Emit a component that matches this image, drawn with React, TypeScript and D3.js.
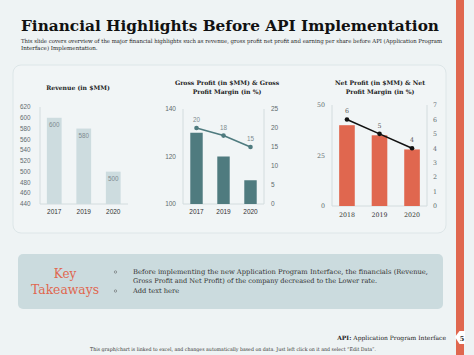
import React from "react";
import * as d3 from "d3";

const revYears = ["2017", "2019", "2020"];
const revenue = [600, 580, 500];
const revTicks = [440, 460, 480, 500, 520, 540, 560, 580, 600, 620];

const gpYears = ["2017", "2019", "2020"];
const grossProfit = [130, 120, 110];
const grossMargin = [20, 18, 15];
const gpLeftTicks = [100, 120, 140];
const gpRightTicks = [0, 5, 10, 15, 20, 25];

const npYears = ["2018", "2019", "2020"];
const netProfit = [40, 35, 28];
const netMargin = [6, 5, 4];
const npLeftTicks = [0, 25, 50];
const npRightTicks = [0, 1, 2, 3, 4, 5, 6, 7];

const SERIF = "'DejaVu Serif', 'Liberation Serif', serif";
const SANS = "'Liberation Sans', Arial, sans-serif";
const CORAL = "#e0674f";
const TEAL = "#4f7b7f";
const AXIS = "#d3dcde";
const LBL = "#5f6b6e";

export default function App() {
  // Chart 1
  const x1 = d3.scaleBand<string>().domain(revYears).range([39.5, 128]).paddingInner(0.5).paddingOuter(0.25);
  const y1 = d3.scaleLinear().domain([440, 620]).range([204, 107]);
  // Chart 2
  const x2 = d3.scaleBand<string>().domain(gpYears).range([183, 264]).paddingInner(0.54).paddingOuter(0.27);
  const y2 = d3.scaleLinear().domain([100, 140]).range([204, 109]);
  const y2r = d3.scaleLinear().domain([0, 25]).range([204, 109]);
  const line2 = d3.line<number>().x((_, i) => x2(gpYears[i])! + x2.bandwidth() / 2).y((d) => y2r(d));
  // Chart 3
  const x3 = d3.scaleBand<string>().domain(npYears).range([332, 427]).paddingInner(0.52).paddingOuter(0.22);
  const y3 = d3.scaleLinear().domain([0, 50]).range([206, 105]);
  const y3r = d3.scaleLinear().domain([0, 7]).range([206, 105]);
  const line3 = d3.line<number>().x((_, i) => x3(npYears[i])! + x3.bandwidth() / 2).y((d) => y3r(d));

  return (
    <svg width={474} height={355} style={{ position: "absolute", left: 0, top: 0 }}>
      <rect x={0} y={0} width={474} height={355} fill="#eef3f4" />
      {/* right red strip */}
      <rect x={456} y={0} width={8} height={355} fill={CORAL} />
      <polygon points="455,337 459.5,331 465,331 465,344 459.5,344" fill="#ffffff" />
      <text x={462} y={341} fontFamily={SERIF} fontWeight="bold" fontSize={6.5} textAnchor="middle" fill="#222">5</text>

      {/* title */}
      <text x={230} y={31} fontFamily={SERIF} fontWeight="bold" fontSize={15} textAnchor="middle" fill="#111" textLength={418} lengthAdjust="spacingAndGlyphs">
        Financial Highlights Before API Implementation
      </text>
      <text x={21} y={43} fontFamily={SERIF} fontSize={5.6} fill="#222" textLength={421} lengthAdjust="spacingAndGlyphs">
        This slide covers overview of the major financial highlights such as revenue, gross profit net profit and earning per share before API (Application Program
      </text>
      <text x={21} y={50} fontFamily={SERIF} fontSize={5.6} fill="#222">Interface) Implementation.</text>

      {/* panel */}
      <rect x={13} y={65} width={433} height={168} rx={8} fill="#f1f5f6" stroke="#dde6e8" strokeWidth={1} />

      {/* Chart 1 */}
      <text x={78} y={90} fontFamily={SERIF} fontWeight="bold" fontSize={6.1} textAnchor="middle" fill="#222">Revenue (in $MM)</text>
      <line x1={40} x2={40} y1={107} y2={204} stroke={AXIS} />
      <line x1={40} x2={128} y1={204} y2={204} stroke={AXIS} />
      {revTicks.map((t) => (
        <text key={t} x={20} y={y1(t) + 2.2} fontFamily={SANS} fontSize={6.3} fill={LBL}>{t}</text>
      ))}
      {revenue.map((v, i) => (
        <g key={i}>
          <rect x={x1(revYears[i])} y={y1(v)} width={x1.bandwidth()} height={204 - y1(v)} fill="#cddcdf" />
          <text x={x1(revYears[i])! + x1.bandwidth() / 2} y={y1(v) + 9} fontFamily={SANS} fontSize={6.3} textAnchor="middle" fill="#7d8b8f">{v}</text>
          <text x={x1(revYears[i])! + x1.bandwidth() / 2} y={214} fontFamily={SANS} fontSize={6.5} textAnchor="middle" fill="#333">{revYears[i]}</text>
        </g>
      ))}

      {/* Chart 2 */}
      <text x={227} y={85} fontFamily={SERIF} fontWeight="bold" fontSize={6.1} textAnchor="middle" fill="#222">Gross Profit (in $MM) &amp; Gross</text>
      <text x={227} y={94} fontFamily={SERIF} fontWeight="bold" fontSize={6.1} textAnchor="middle" fill="#222">Profit Margin (in %)</text>
      <line x1={183} x2={183} y1={109} y2={204} stroke={AXIS} />
      <line x1={264} x2={264} y1={109} y2={204} stroke={AXIS} />
      <line x1={183} x2={264} y1={204} y2={204} stroke={AXIS} />
      {gpLeftTicks.map((t) => (
        <text key={t} x={176} y={y2(t) + 2.3} fontFamily={SANS} fontSize={6.5} textAnchor="end" fill={LBL}>{t}</text>
      ))}
      {gpRightTicks.map((t) => (
        <text key={t} x={271} y={y2r(t) + 2.3} fontFamily={SANS} fontSize={6.5} fill={LBL}>{t}</text>
      ))}
      {grossProfit.map((v, i) => (
        <g key={i}>
          <rect x={x2(gpYears[i])} y={y2(v)} width={x2.bandwidth()} height={204 - y2(v)} fill={TEAL} />
          <text x={x2(gpYears[i])! + x2.bandwidth() / 2} y={214} fontFamily={SANS} fontSize={6.5} textAnchor="middle" fill="#333">{gpYears[i]}</text>
        </g>
      ))}
      <path d={line2(grossMargin)!} fill="none" stroke={TEAL} strokeWidth={1.6} />
      {grossMargin.map((v, i) => {
        const cx = x2(gpYears[i])! + x2.bandwidth() / 2;
        return (
          <g key={i}>
            <circle cx={cx} cy={y2r(v)} r={2.3} fill={TEAL} />
            <text x={cx} y={y2r(v) - 6} fontFamily={SANS} fontSize={6.3} textAnchor="middle" fill="#7d8b8f">{v}</text>
          </g>
        );
      })}

      {/* Chart 3 */}
      <text x={380} y={85} fontFamily={SERIF} fontWeight="bold" fontSize={6.1} textAnchor="middle" fill="#222">Net Profit (in $MM) &amp; Net</text>
      <text x={380} y={94} fontFamily={SERIF} fontWeight="bold" fontSize={6.1} textAnchor="middle" fill="#222">Profit Margin (in %)</text>
      <line x1={332} x2={332} y1={105} y2={206} stroke={AXIS} />
      <line x1={427} x2={427} y1={105} y2={206} stroke={AXIS} />
      <line x1={332} x2={427} y1={206} y2={206} stroke={AXIS} />
      {npLeftTicks.map((t) => (
        <text key={t} x={325} y={y3(t) + 2.3} fontFamily={SERIF} fontSize={6.3} textAnchor="end" fill={LBL}>{t}</text>
      ))}
      {npRightTicks.map((t) => (
        <text key={t} x={433} y={y3r(t) + 2.3} fontFamily={SERIF} fontSize={6.3} fill={LBL}>{t}</text>
      ))}
      {netProfit.map((v, i) => (
        <g key={i}>
          <rect x={x3(npYears[i])} y={y3(v)} width={x3.bandwidth()} height={206 - y3(v)} fill={CORAL} />
          <text x={x3(npYears[i])! + x3.bandwidth() / 2} y={217} fontFamily={SERIF} fontSize={6.3} textAnchor="middle" fill="#333">{npYears[i]}</text>
        </g>
      ))}
      <path d={line3(netMargin)!} fill="none" stroke="#111" strokeWidth={1.6} />
      {netMargin.map((v, i) => {
        const cx = x3(npYears[i])! + x3.bandwidth() / 2;
        return (
          <g key={i}>
            <circle cx={cx} cy={y3r(v)} r={2.3} fill="#111" />
            <text x={cx} y={y3r(v) - 6} fontFamily={SERIF} fontSize={6.3} textAnchor="middle" fill="#555">{v}</text>
          </g>
        );
      })}

      {/* Key Takeaways */}
      <rect x={18} y={254} width={425} height={55} rx={5} fill="#cbdbde" />
      <text x={65} y={278} fontFamily={SERIF} fontSize={12} textAnchor="middle" fill={CORAL}>Key</text>
      <text x={65} y={294} fontFamily={SERIF} fontSize={12} textAnchor="middle" fill={CORAL} textLength={68} lengthAdjust="spacingAndGlyphs">Takeaways</text>
      <circle cx={115.5} cy={272} r={1.2} fill="none" stroke="#555" strokeWidth={0.5} />
      <circle cx={115.5} cy={291} r={1.2} fill="none" stroke="#555" strokeWidth={0.5} />
      <text x={133} y={274} fontFamily={SERIF} fontSize={6.7} fill="#333" textLength={295} lengthAdjust="spacingAndGlyphs">
        Before implementing the new Application Program Interface, the financials (Revenue,
      </text>
      <text x={133} y={283} fontFamily={SERIF} fontSize={6.7} fill="#333" textLength={244} lengthAdjust="spacingAndGlyphs">
        Gross Profit and Net Profit) of the company decreased to the Lower rate.
      </text>
      <text x={133} y={293} fontFamily={SERIF} fontSize={6.7} fill="#333">Add text here</text>

      {/* footer */}
      <text x={446} y={340} fontFamily={SERIF} fontSize={6} textAnchor="end" fill="#222">
        <tspan fontWeight="bold">API:</tspan> Application Program Interface
      </text>
      <text x={233} y={351} fontFamily={SERIF} fontSize={5} textAnchor="middle" fill="#333" textLength={286} lengthAdjust="spacingAndGlyphs">
        This graph/chart is linked to excel, and changes automatically based on data. Just left click on it and select “Edit Data”.
      </text>
    </svg>
  );
}
